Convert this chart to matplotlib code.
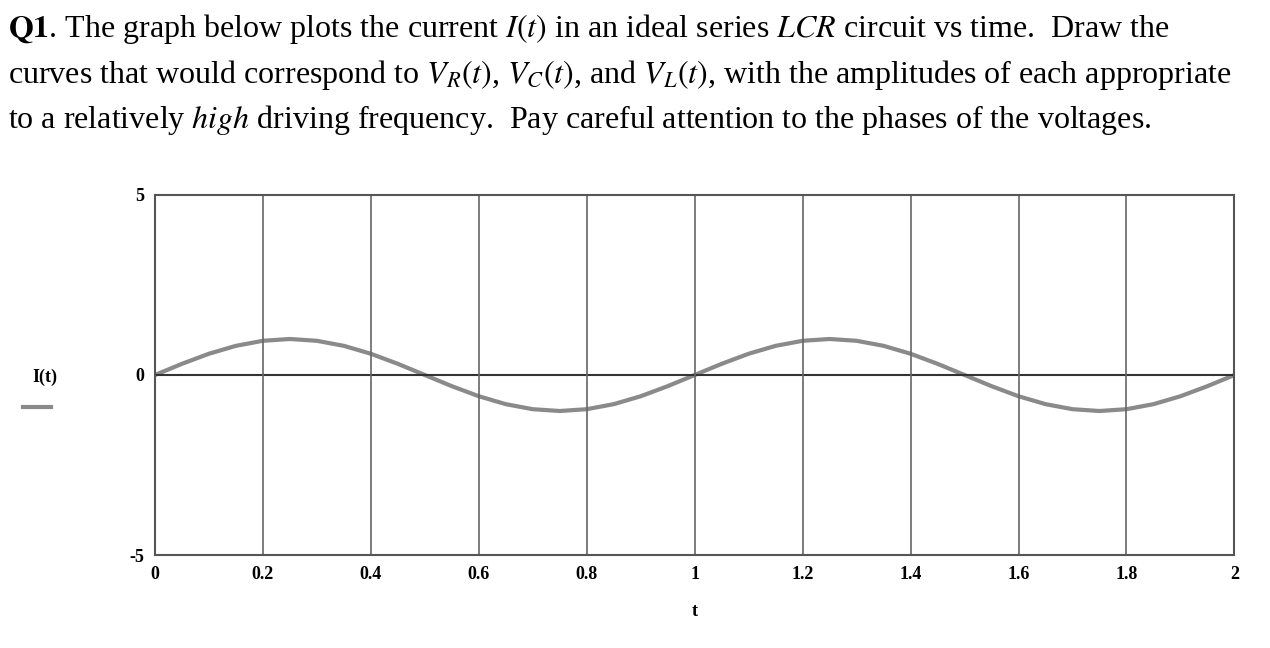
import matplotlib
matplotlib.use("Agg")
import matplotlib.pyplot as plt

t_vals = [0.0,0.05,0.1,0.15,0.2,0.25,0.3,0.35,0.4,0.45,0.5,0.55,0.6,0.65,0.7,0.75,0.8,0.85,0.9,0.95,1.0,
          1.05,1.1,1.15,1.2,1.25,1.3,1.35,1.4,1.45,1.5,1.55,1.6,1.65,1.7,1.75,1.8,1.85,1.9,1.95,2.0]
i_vals = [0.0,0.31,0.59,0.81,0.95,1.0,0.95,0.81,0.59,0.31,0.0,-0.31,-0.59,-0.81,-0.95,-1.0,-0.95,-0.81,-0.59,-0.31,0.0,
          0.31,0.59,0.81,0.95,1.0,0.95,0.81,0.59,0.31,0.0,-0.31,-0.59,-0.81,-0.95,-1.0,-0.95,-0.81,-0.59,-0.31,0.0]
x_ticks = [0,0.2,0.4,0.6,0.8,1,1.2,1.4,1.6,1.8,2]
x_labels = ["0","0.2","0.4","0.6","0.8","1","1.2","1.4","1.6","1.8","2"]
y_ticks = [-5,0,5]

plt.rcParams['font.family'] = ['Liberation Serif', 'DejaVu Serif']
plt.rcParams['mathtext.fontset'] = 'stix'
fig = plt.figure(figsize=(12.7,6.48), dpi=100)
fs = 23
fig.text(0.006, 0.955, r"$\mathbf{Q1}$. The graph below plots the current $I(t)$ in an ideal series $LCR$ circuit vs time.  Draw the",
         fontsize=fs, va='center')
fig.text(0.006, 0.885, r"curves that would correspond to $V_R(t)$, $V_C(t)$, and $V_L(t)$, with the amplitudes of each appropriate",
         fontsize=fs, va='center')
fig.text(0.006, 0.815, r"to a relatively $\it{high}$ driving frequency.  Pay careful attention to the phases of the voltages.",
         fontsize=fs, va='center')

ax = fig.add_axes([0.122, 0.1435, 0.850, 0.5556])
ax.plot(t_vals, i_vals, color='#8a8a8a', lw=3)
ax.axhline(0, color='#333333', lw=1.5)
for x in x_ticks[1:-1]:
    ax.axvline(x, color='#666666', lw=1.2)
ax.set_xlim(0,2); ax.set_ylim(-5,5)
ax.set_xticks(x_ticks); ax.set_xticklabels(x_labels, fontsize=13, fontweight='bold')
ax.set_yticks(y_ticks); ax.set_yticklabels(["-5","0","5"], fontsize=13, fontweight='bold')
ax.tick_params(length=0, pad=8)
for s in ax.spines.values():
    s.set_color('#555555'); s.set_linewidth(1.5)
ax.set_xlabel("t", fontsize=13, fontweight='bold', labelpad=14)
fig.text(0.035, 0.41, "I(t)", fontsize=13, fontweight='bold', ha='center')
fig.add_artist(plt.Line2D([0.018,0.04],[0.372,0.372], color='#8a8a8a', lw=3, transform=fig.transFigure))
fig.savefig("out.png", dpi=100)
